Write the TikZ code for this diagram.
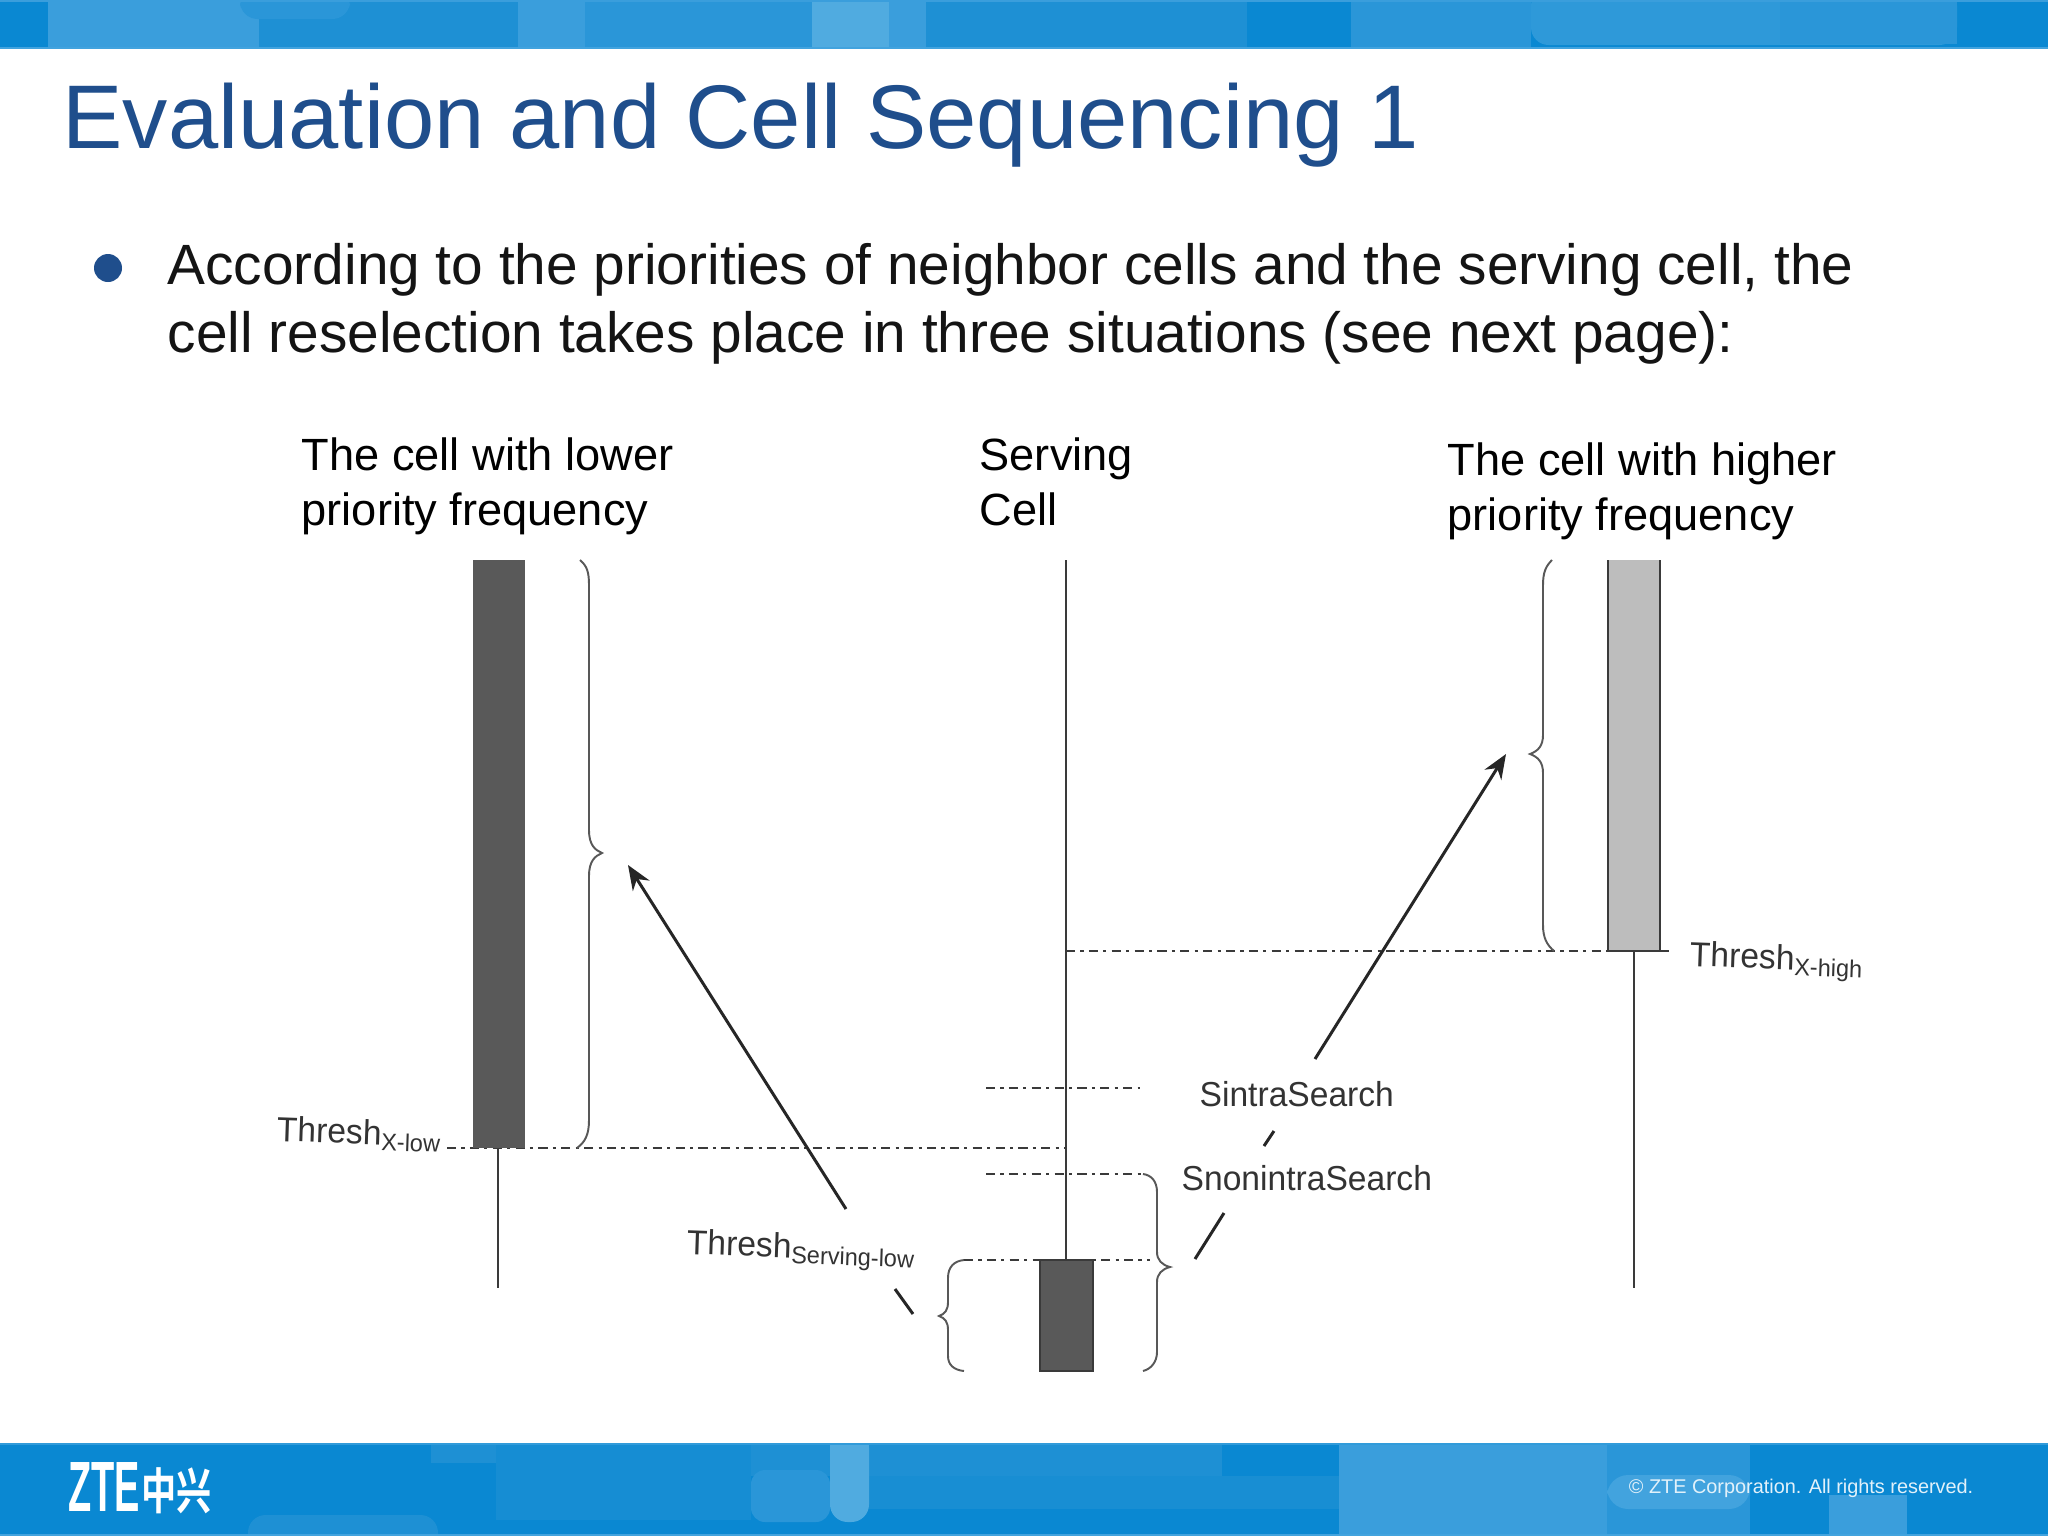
\documentclass[tikz,border=0pt]{standalone}
\usepackage{fontspec}
\setmainfont{Liberation Sans}
\newfontfamily\cjkfont{Noto Sans CJK SC}[BoldFont={* Bold}]
\usetikzlibrary{arrows.meta}
\definecolor{bandbase}{HTML}{0A88D2}
\definecolor{titleblue}{HTML}{1F4E8C}
\definecolor{dark}{HTML}{3A3A3A}
\definecolor{lowbar}{HTML}{595959}
\definecolor{highbar}{HTML}{BDBDBD}
\definecolor{bandA}{HTML}{3A9EDC}
\definecolor{bandB}{HTML}{1E90D4}
\definecolor{bandC}{HTML}{2A96D8}
\definecolor{bandD}{HTML}{50ABE0}
\definecolor{bandE}{HTML}{2E99D9}
\definecolor{bandF}{HTML}{42A3DE}
\tikzset{
  titletext/.style={anchor=base west,inner sep=0pt,text=titleblue,font=\fontsize{25.7pt}{30pt}\selectfont},
  bodytext/.style={anchor=base west,inner sep=0pt,text=black!92,font=\fontsize{16.15pt}{19pt}\selectfont},
  headlabel/.style={anchor=base west,inner sep=0pt,text=black,font=\fontsize{12.85pt}{15pt}\selectfont},
  difflabel/.style={anchor=base west,inner sep=0pt,text=black!80,xscale=0.97,font=\fontsize{9.85pt}{12pt}\selectfont},
  levelline/.style={draw=dark,line width=0.8pt,dash pattern=on 2.6pt off 1.5pt on 0.9pt off 1.5pt},
  axisline/.style={draw=dark,line width=0.6pt},
  bracepath/.style={draw=dark!85,line width=0.55pt},
  pointer/.style={draw=black!85,line width=0.85pt},
  arrowline/.style={draw=black!85,line width=0.85pt,-{Stealth[length=7pt,width=5.6pt]}},
}
\begin{document}
\begin{tikzpicture}[x=0.01cm,y=-0.01cm]
\useasboundingbox (0,0) rectangle (2048,1536);
\fill[white] (0,0) rectangle (2048,1536);
% top band
\begin{scope}
\clip (0,0) rectangle (2048,49);
\fill[bandbase] (0,0) rectangle (2048,49);
\fill[bandA] (48,0) rectangle (259,49);
\fill[bandB] (259,0) rectangle (518,49);
\fill[bandC,rounded corners=5pt] (240,-10) rectangle (350,19);
\fill[bandA] (518,0) rectangle (585,49);
\fill[bandC] (585,0) rectangle (812,49);
\fill[bandD] (812,0) rectangle (889,49);
\fill[bandA] (889,0) rectangle (926,49);
\fill[bandB] (926,0) rectangle (1247,49);
\fill[bandC] (1351,0) rectangle (1531,49);
\fill[bandE,rounded corners=5pt] (1531,-12) rectangle (1957,45);
\fill[bandC] (1780,0) rectangle (1957,44);
\fill[bandA] (0,0) rectangle (2048,1.5);
\fill[bandF] (0,47) rectangle (2048,49);
\end{scope}
% bottom band
\begin{scope}
\clip (0,1443) rectangle (2048,1536);
\fill[bandbase] (0,1443) rectangle (2048,1536);
\fill[bandB!60!bandbase] (496,1443) rectangle (751,1520);
\fill[bandB!70!bandbase] (868,1476) rectangle (1339,1509);
\fill[bandB] (751,1443) rectangle (1222,1476);
\fill[bandC,rounded corners=4pt] (751,1470) rectangle (830,1522);
\fill[bandD,rounded corners=5pt] (830,1430) rectangle (869,1522);
\fill[bandB] (431,1443) rectangle (496,1463);
\fill[bandB,rounded corners=5pt] (248,1515) rectangle (438,1560);
\fill[bandC] (1339,1443) rectangle (1750,1509);
\fill[bandA] (1339,1443) rectangle (1607,1536);
\fill[bandC] (1607,1509) rectangle (1750,1536);
\fill[bandF,rounded corners=6pt] (1607,1475) rectangle (1750,1509);
\fill[bandA] (1829,1495) rectangle (1907,1536);
\fill[bandF!70!bandbase] (0,1443) rectangle (2048,1445);
\fill[bandF] (0,1534) rectangle (2048,1536);
\end{scope}
% footer texts
\node[anchor=base west,inner sep=0pt,text=white,font=\bfseries\fontsize{15pt}{15pt}\selectfont,xscale=0.72,yscale=1.35] (logoa) at (68,1511) {ZTE};
\node[anchor=base west,inner sep=0pt,text=white,font=\cjkfont\bfseries\fontsize{12.5pt}{15pt}\selectfont,xscale=0.8,yscale=1.12] (logob) at (141,1509) {中兴};
\node[anchor=base east,inner sep=0pt,text=white!88!bandbase,font=\fontsize{5.65pt}{8pt}\selectfont] (copy) at (1974,1493) {© ZTE Corporation. All rights reserved.};
% title and body
\node[titletext] (title) at (62,148.5) {Evaluation and Cell Sequencing 1};
\fill[titleblue] (108,268) circle (14);
\node[bodytext] (bodya) at (167,284.5) {According to the priorities of neighbor cells and the serving cell, the};
\node[bodytext] (bodyb) at (167,352.5) {cell reselection takes place in three situations (see next page):};
% column heads
\node[headlabel] (lowa) at (301,470) {The cell with lower};
\node[headlabel] (lowb) at (301,525) {priority frequency};
\node[headlabel] (serva) at (979,470) {Serving};
\node[headlabel] (servb) at (979,525) {Cell};
\node[headlabel] (higha) at (1447,475) {The cell with higher};
\node[headlabel] (highb) at (1447,530) {priority frequency};
% coordinates
\coordinate (lowtop) at (498,1148);
\coordinate (lowend) at (498,1288);
\coordinate (servtop) at (1066,560);
\coordinate (servlow) at (1066,1260);
\coordinate (hightop) at (1634,951);
\coordinate (highend) at (1634,1288);
\coordinate (lvlowa) at (447,1148);
\coordinate (lvlowb) at (1066,1148);
\coordinate (lvhigha) at (1066,951);
\coordinate (lvhighb) at (1674,951);
\coordinate (lvintraa) at (986,1088);
\coordinate (lvintrab) at (1140,1088);
\coordinate (lvnona) at (986,1174);
\coordinate (lvnonb) at (1143,1174);
\coordinate (lvserva) at (964,1260);
\coordinate (lvservb) at (1150,1260);
\coordinate (arra) at (846,1209);
\coordinate (arrb) at (628,865);
\coordinate (arrc) at (1315,1059);
\coordinate (arrd) at (1506,754);
\coordinate (tka) at (895,1289);
\coordinate (tkb) at (913,1314);
\coordinate (tkc) at (1274,1131);
\coordinate (tkd) at (1264,1146);
\coordinate (tke) at (1224,1213);
\coordinate (tkf) at (1195,1259);
% level lines (under bars)
\draw[levelline] (lvlowa) -- (lvlowb);
\draw[levelline] (lvhigha) -- (lvhighb);
\draw[levelline] (lvintraa) -- (lvintrab);
\draw[levelline] (lvnona) -- (lvnonb);
\draw[levelline] (lvserva) -- (lvservb);
% axes
\draw[axisline] (lowtop) -- (lowend);
\draw[axisline] (servtop) -- (servlow);
\draw[axisline] (hightop) -- (highend);
% bars
\fill[lowbar] (473,560) rectangle (525,1148);
\fill[lowbar,draw=dark,line width=0.5pt] (1040,1260) rectangle (1093,1371);
\fill[highbar] (1608,560) rectangle (1660,951);
\draw[dark,line width=0.7pt] (1608,560) -- (1608,951) -- (1660,951) -- (1660,560);
% braces
\draw[bracepath] (580,560) .. controls (587,566) and (589,572) .. (589,585) -- (589,830) .. controls (589,845) and (595,850) .. (602,853) .. controls (595,856) and (589,861) .. (589,876) -- (589,1120) .. controls (589,1135) and (585,1142) .. (577,1148);
\draw[bracepath] (1552,560) .. controls (1546,566) and (1543,572) .. (1543,585) -- (1543,735) .. controls (1543,746) and (1538,751) .. (1530,754) .. controls (1538,757) and (1543,762) .. (1543,773) -- (1543,925) .. controls (1543,938) and (1547,945) .. (1554,951);
\draw[bracepath] (1143,1174) .. controls (1151,1175) and (1157,1181) .. (1157,1192) -- (1157,1252) .. controls (1157,1260) and (1162,1265) .. (1170,1267) .. controls (1162,1269) and (1157,1274) .. (1157,1282) -- (1157,1352) .. controls (1157,1362) and (1151,1369) .. (1143,1371);
\draw[bracepath] (964,1260) .. controls (954,1261) and (948,1267) .. (948,1278) -- (948,1302) .. controls (948,1310) and (945,1314) .. (939,1316) .. controls (945,1318) and (948,1322) .. (948,1330) -- (948,1356) .. controls (948,1365) and (954,1370) .. (964,1371);
% pointers and arrows
\draw[arrowline] (arra) -- (arrb);
\draw[arrowline] (arrc) -- (arrd);
\draw[pointer] (tka) -- (tkb);
\draw[pointer] (tkc) -- (tkd);
\draw[pointer] (tke) -- (tkf);
% threshold labels
\node[difflabel,rotate=-2] (txlow) at (276,1141) {Thresh\textsubscript{X-low}};
\node[difflabel,rotate=-2] (tslow) at (686,1254) {Thresh\textsubscript{Serving-low}};
\node[difflabel,rotate=-2] (txhigh) at (1689,966) {Thresh\textsubscript{X-high}};
\node[difflabel] (sintra) at (1199,1106) {SintraSearch};
\node[difflabel] (snon) at (1181,1190) {SnonintraSearch};
\end{tikzpicture}
\end{document}
